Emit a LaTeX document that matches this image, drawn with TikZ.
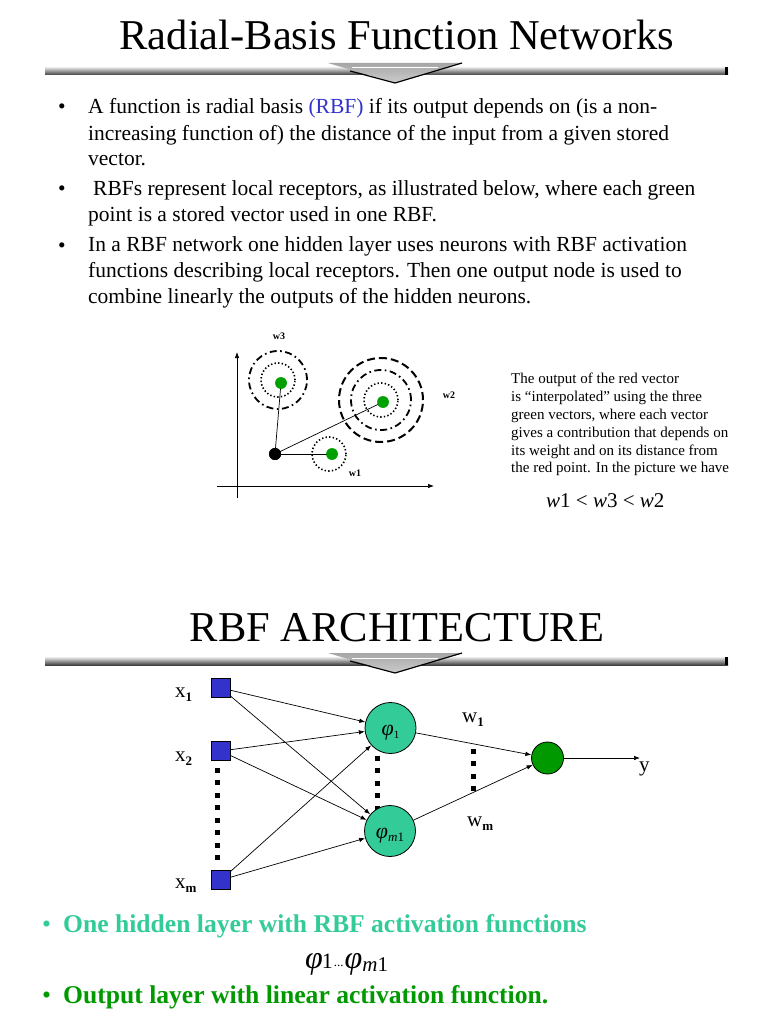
\documentclass[tikz,border=0pt]{standalone}
\usepackage{fontspec}
\setmainfont{Liberation Serif}
\usetikzlibrary{arrows.meta}
\definecolor{rbfblue}{HTML}{3333CC}
\definecolor{tealc}{HTML}{33CC99}
\definecolor{greenc}{HTML}{009900}
\definecolor{ptgreen}{HTML}{00A000}
\tikzset{
  bodytext/.style={anchor=base west, inner sep=0pt, font=\fontsize{21.5}{25}\selectfont},
  smalltext/.style={anchor=base west, inner sep=0pt, font=\fontsize{15}{18}\selectfont},
  titletext/.style={anchor=base, inner sep=0pt, font=\fontsize{42.5}{48}\selectfont},
  wlab/.style={anchor=base, inner sep=0pt, font=\fontsize{10}{10}\selectfont\bfseries},
  netlab/.style={anchor=base west, inner sep=0pt, font=\fontsize{21}{21}\selectfont},
  insq/.style={draw=black, fill=rbfblue, minimum size=19pt, inner sep=0pt, line width=0.8pt},
  hid/.style={circle, draw=black, fill=tealc, minimum size=51pt, inner sep=0pt, line width=0.8pt},
  outn/.style={circle, draw=black, fill=greenc, minimum size=32pt, inner sep=0pt, line width=0.8pt},
  conn/.style={-{Latex[length=6pt,width=4.5pt]}, line width=0.7pt},
  plain/.style={line width=0.7pt},
  sqdots/.style={line width=5pt, dash pattern=on 5pt off 7.5pt},
  gpt/.style={circle, fill=ptgreen, minimum size=11.5pt, inner sep=0pt},
  dotc/.style={line width=1.6pt, dash pattern=on 1.4pt off 2.2pt},
  dashdotc/.style={line width=1.8pt, dash pattern=on 7pt off 3.5pt on 1.6pt off 3.5pt},
  dashc/.style={line width=2pt, dash pattern=on 8pt off 4pt},
}
\newcommand{\decorule}[1]{%
  \shade[top color=gray!15, bottom color=black!75] (45,#1-4) rectangle (728,#1+4);
  \fill[black] (725,#1-4) rectangle (728,#1+4);
  \shade[top color=gray!70, bottom color=gray!40] (328,#1-8) -- (462,#1-8) -- (395,#1+12) -- cycle;
  \draw[white, line width=1pt] (352,#1-3) -- (438,#1-3);
  \draw[black, line width=1.2pt] (350,#1) -- (395,#1+12) -- (462,#1-8);
}
\begin{document}
\begin{tikzpicture}[x=1pt, y=-1pt]
\useasboundingbox[fill=white] (0,0) rectangle (768,1024);

% ---------- Title 1 ----------
\node[titletext] (t1) at (397,50) {Radial-Basis Function Networks};
\decorule{71}

% ---------- bullets ----------
\foreach \yy in {114,196,252} {\node[bodytext] at (58,\yy) {\textbullet};}
\node[bodytext] (l1) at (88,114) {A function is radial basis {\color{rbfblue}(RBF)} if its output depends on (is a non-};
\node[bodytext] (l2) at (88,140.5) {increasing function of) the distance of the input from a given stored};
\node[bodytext] (l3) at (88,166) {vector.};
\node[bodytext] (l4) at (93,196) {RBFs represent local receptors, as illustrated below, where each green};
\node[bodytext] (l5) at (88,221.5) {point is a stored vector used in one RBF.};
\node[bodytext] (l6) at (88,251.5) {In a RBF network one hidden layer uses neurons with RBF activation};
\node[bodytext] (l7) at (88,277.5) {functions describing local receptors. Then one output node is used to};
\node[bodytext] (l8) at (88,303.5) {combine linearly the outputs of the hidden neurons.};

% ---------- scatter picture ----------
\coordinate (vb) at (237,498);
\coordinate (vt) at (237,352);
\coordinate (hl) at (217,486);
\coordinate (hr) at (434,486);
\draw[conn] (vb) -- (vt);
\draw[conn] (hl) -- (hr);

\coordinate (c3) at (278,380);
\coordinate (c2) at (381,400);
\coordinate (c1) at (329,454);
\draw[dotc] (c3) circle (17pt);
\draw[dashdotc] (c3) circle (29pt);
\draw[dotc] (c2) circle (17pt);
\draw[dashdotc] (c2) circle (30pt);
\draw[dashc] (c2) circle (42pt);
\draw[dotc] (c1) circle (17pt);

\node[circle, fill=black, minimum size=12pt, inner sep=0pt] (rp) at (275,454) {};
\node[gpt] (g3) at (281,383) {};
\node[gpt] (g2) at (383,402) {};
\node[gpt] (g1) at (332,454) {};
\draw[plain] (rp.center) -- (g3.center);
\draw[plain] (rp.center) -- (g2.center);
\draw[plain] (rp.center) -- (g1.center);
\node[circle, fill=black, minimum size=12pt, inner sep=0pt] at (275,454) {};
\node[gpt] at (281,383) {};
\node[gpt] at (383,402) {};
\node[gpt] at (332,454) {};

\node[wlab] (lw3) at (279,339) {w3};
\node[wlab] (lw2) at (449,398) {w2};
\node[wlab] (lw1) at (355,476) {w1};

% ---------- right explanation ----------
\node[smalltext] (r1) at (511,383) {The output of the red vector};
\node[smalltext] (r2) at (511,401) {is “interpolated” using the three};
\node[smalltext] (r3) at (511,419) {green vectors, where each vector};
\node[smalltext] (r4) at (511,437) {gives a contribution that depends on};
\node[smalltext] (r5) at (511,455) {its weight and on its distance from};
\node[smalltext] (r6) at (511,472.5) {the red point. In the picture we have};
\node[anchor=base west, inner sep=0pt, font=\fontsize{21}{21}\selectfont] (ineq) at (546,507)
  {\textit{w}1 < \textit{w}3 < \textit{w}2};

% ---------- Title 2 ----------
\node[titletext] (t2) at (397,641) {RBF ARCHITECTURE};
\decorule{661}

% ---------- network ----------
\draw[sqdots] (217.5,767.5) -- (217.5,860);
\draw[sqdots] (377.5,755.5) -- (377.5,811);
\draw[sqdots] (473.5,748.5) -- (473.5,791.5);

\node[insq] (x1) at (221,688) {};
\node[insq] (x2) at (221,751) {};
\node[insq] (xm) at (221,880) {};
\node[hid] (h1) at (390.5,728) {};
\node[hid] (hm) at (390,831) {};
\node[outn] (o) at (547.5,758) {};
\coordinate (yend) at (640,758);

\foreach \s in {x1,x2,xm} {
  \draw[conn] (\s) -- (h1);
  \draw[conn] (\s) -- (hm);
}
\draw[conn] (h1) -- (o);
\draw[conn] (hm) -- (o);
\draw[conn] (o) -- (yend);

\node[anchor=base, inner sep=0pt, font=\fontsize{22}{22}\selectfont] at (h1.center) [yshift=-7pt]
  {\textit{φ}\raisebox{-3pt}{\fontsize{11}{11}\selectfont 1}};
\node[anchor=base, inner sep=0pt, font=\fontsize{22}{22}\selectfont] at (hm.center) [yshift=-7pt]
  {\textit{φ}\raisebox{-3pt}{\fontsize{13}{13}\selectfont\textit{m}1}};

\node[netlab] (lx1) at (175,697) {x\raisebox{-4pt}{\fontsize{13}{13}\selectfont\bfseries 1}};
\node[netlab] (lx2) at (175,761) {x\raisebox{-4pt}{\fontsize{13}{13}\selectfont\bfseries 2}};
\node[netlab] (lxm) at (175,888) {x\raisebox{-4pt}{\fontsize{13}{13}\selectfont\bfseries m}};
\node[netlab] (lw1n) at (462,722) {w\raisebox{-4pt}{\fontsize{13}{13}\selectfont\bfseries 1}};
\node[netlab] (lwmn) at (467,826) {w\raisebox{-4pt}{\fontsize{13}{13}\selectfont\bfseries m}};
\node[netlab] (ly) at (639,771) {y};

% ---------- bottom bullets ----------
\node[anchor=base west, inner sep=0pt, font=\fontsize{25.6}{28}\selectfont, text=tealc] at (42,932) {\textbullet};
\node[anchor=base west, inner sep=0pt, font=\fontsize{25.6}{28}\selectfont\bfseries, text=tealc] (b1) at (63,932)
  {One hidden layer with RBF activation functions};
\node[anchor=base west, inner sep=0pt, font=\fontsize{32}{32}\selectfont] (phis) at (305,968)
  {\textit{φ}\kern-1pt{\fontsize{22}{22}\selectfont 1}\kern1pt\raisebox{2pt}{\fontsize{13}{13}\selectfont ...}\kern1pt\textit{φ}\raisebox{-3pt}{\fontsize{21}{21}\selectfont\textit{m}1}};
\node[anchor=base west, inner sep=0pt, font=\fontsize{25.6}{28}\selectfont, text=greenc] at (42,1003) {\textbullet};
\node[anchor=base west, inner sep=0pt, font=\fontsize{25.6}{28}\selectfont\bfseries, text=greenc] (b2) at (63,1003)
  {Output layer with linear activation function.};
\end{tikzpicture}
\end{document}
